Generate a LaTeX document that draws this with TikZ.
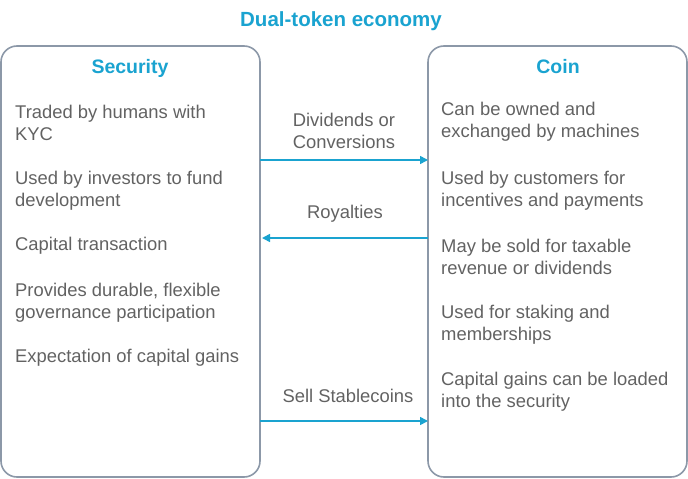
\documentclass[tikz,border=0pt]{standalone}
\usepackage{fontspec}
\setmainfont{Liberation Sans}
\usetikzlibrary{arrows.meta}
\definecolor{tblue}{RGB}{26,163,208}
\definecolor{tgray}{RGB}{98,98,98}
\definecolor{bgray}{RGB}{140,152,168}
\begin{document}
\begin{tikzpicture}[x=1pt,y=-1pt,
  panel/.style={draw=bgray,line width=1.6pt,rounded corners=16pt},
  item/.style={anchor=west,inner sep=0pt,align=left,text=tgray,font=\fontsize{18.4}{22}\selectfont},
  head/.style={text=tblue,font=\fontsize{19.5}{22}\selectfont\bfseries,inner sep=0pt},
  lbl/.style={text=tgray,font=\fontsize{18.4}{22}\selectfont,align=center,inner sep=0pt},
  flow/.style={draw=tblue,line width=1.6pt,-{Triangle[length=8pt,width=8pt]}}]
\useasboundingbox (0,0) rectangle (688,479);
\node[head,font=\fontsize{20.5}{24}\selectfont\bfseries] (title) at (341,21) {Dual-token economy};
\draw[panel] (1,46) rectangle (260,477);
\draw[panel] (428,46) rectangle (687,477);
\node[head] (sec) at (130,68) {Security};
\node[head] (coin) at (558,67) {Coin};
\node[item] (s1) at (15,123) {Traded by humans with\\KYC};
\node[item] (s2) at (15,191) {Used by investors to fund\\development};
\node[item] (s3) at (15,246) {Capital transaction};
\node[item] (s4) at (15,303) {Provides durable, flexible\\governance participation};
\node[item] (s5) at (15,358) {Expectation of capital gains};
\node[item] (c1) at (441,122) {Can be owned and\\exchanged by machines};
\node[item] (c2) at (441,191) {Used by customers for\\incentives and payments};
\node[item] (c3) at (441,257) {May be sold for taxable\\revenue or dividends};
\node[item] (c4) at (441,325) {Used for staking and\\memberships};
\node[item] (c5) at (441,392) {Capital gains can be loaded\\into the security};
\coordinate (a1s) at (260,160); \coordinate (a1e) at (428,160);
\coordinate (a2s) at (428,238); \coordinate (a2e) at (262,238);
\coordinate (a3s) at (260,421); \coordinate (a3e) at (428,421);
\draw[flow] (a1s) -- (a1e);
\draw[flow] (a2s) -- (a2e);
\draw[flow] (a3s) -- (a3e);
\node[lbl] (l1) at (344,131) {Dividends or\\Conversions};
\node[lbl] (l2) at (345,214) {Royalties};
\node[lbl] (l3) at (348,396) {Sell Stablecoins};
\end{tikzpicture}
\end{document}
